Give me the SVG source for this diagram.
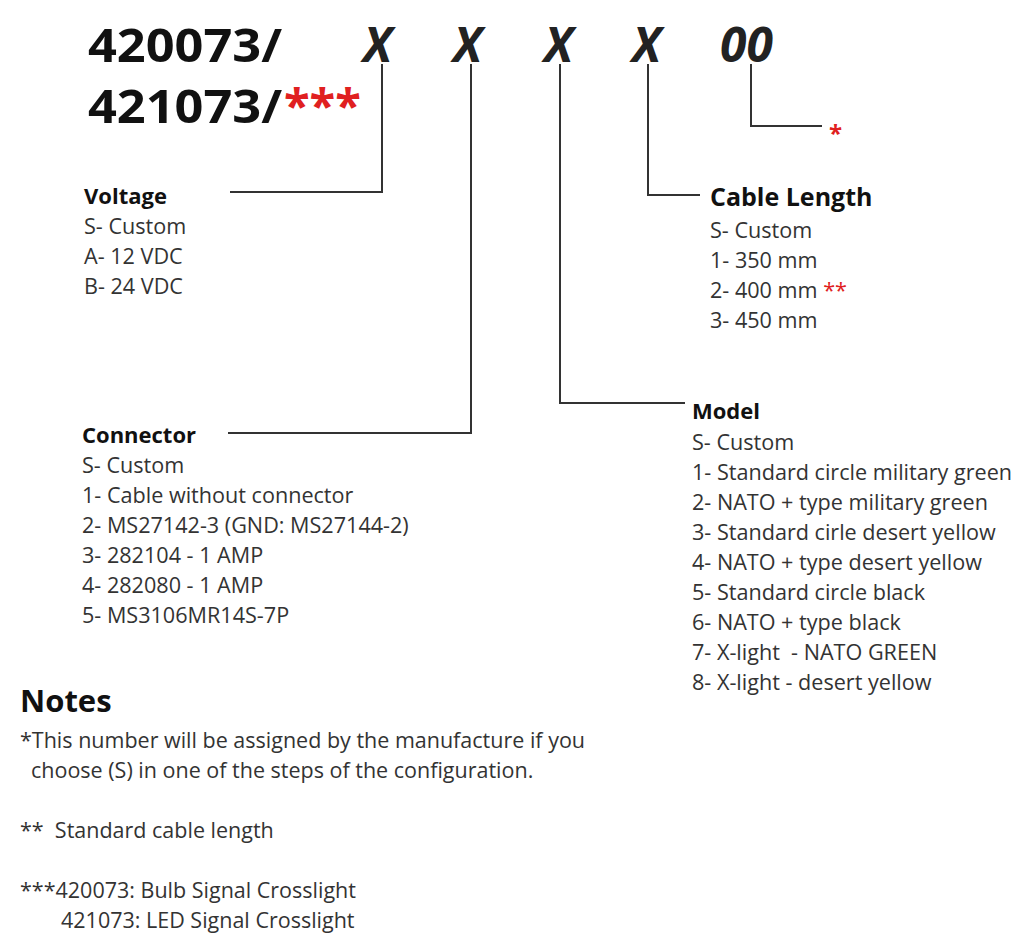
<svg xmlns="http://www.w3.org/2000/svg" width="1016" height="948" viewBox="0 0 1016 948">
<style>
text{font-family:"Open Sans","Liberation Sans",sans-serif;fill:#222}
.h{font-size:47px;font-weight:bold;fill:#111}
.x{font-size:48px;font-style:italic;font-weight:bold;fill:#222}
.t{font-size:22px;font-weight:bold;fill:#111}
.b{font-size:21.6px;fill:#333}
.n{font-size:21.5px;fill:#333}
.r{fill:#e02020}
.ln{fill:none;stroke:#333;stroke-width:2}
</style>
<rect width="1016" height="948" fill="#fff"/>
<g id="code">
<text class="h" x="88" y="62" textLength="194" lengthAdjust="spacingAndGlyphs">420073/</text>
<text class="h" x="88" y="123" textLength="194" lengthAdjust="spacingAndGlyphs">421073/</text>
<text class="h r" x="284" y="123">***</text>
<text class="x" x="363" y="62">X</text>
<text class="x" x="453" y="62">X</text>
<text class="x" x="544" y="62">X</text>
<text class="x" x="632" y="62">X</text>
<text class="x" x="720" y="62">00</text>
<text class="r" x="829" y="142" style="font-size:24px;font-weight:bold">*</text>
</g>
<g id="connectors">
<polyline class="ln" points="382,64 382,192 230,192"/>
<polyline class="ln" points="471,64 471,433 228,433"/>
<polyline class="ln" points="560,64 560,403 685,403"/>
<polyline class="ln" points="648,64 648,195 700,195"/>
<polyline class="ln" points="751,64 751,126 822,126"/>
</g>
<g id="voltage">
<text class="t" x="84" y="204">Voltage</text>
<text class="b" x="84" y="234">S- Custom</text>
<text class="b" x="84" y="264">A- 12 VDC</text>
<text class="b" x="84" y="294">B- 24 VDC</text>
</g>
<g id="cable">
<text class="t" x="710" y="206" style="font-size:25px">Cable Length</text>
<text class="b" x="710" y="238">S- Custom</text>
<text class="b" x="710" y="268">1- 350 mm</text>
<text class="b" x="710" y="298">2- 400 mm <tspan class="r">**</tspan></text>
<text class="b" x="710" y="328">3- 450 mm</text>
</g>
<g id="model">
<text class="t" x="692" y="419">Model</text>
<text class="b" x="692" y="450">S- Custom</text>
<text class="b" x="692" y="480">1- Standard circle military green</text>
<text class="b" x="692" y="510">2- NATO + type military green</text>
<text class="b" x="692" y="540">3- Standard cirle desert yellow</text>
<text class="b" x="692" y="570">4- NATO + type desert yellow</text>
<text class="b" x="692" y="600">5- Standard circle black</text>
<text class="b" x="692" y="630">6- NATO + type black</text>
<text class="b" x="692" y="660" xml:space="preserve">7- X-light  - NATO GREEN</text>
<text class="b" x="692" y="690">8- X-light - desert yellow</text>
</g>
<g id="connector">
<text class="t" x="82" y="443">Connector</text>
<text class="b" x="82" y="473">S- Custom</text>
<text class="b" x="82" y="503">1- Cable without connector</text>
<text class="b" x="82" y="533">2- MS27142-3 (GND: MS27144-2)</text>
<text class="b" x="82" y="563">3- 282104 - 1 AMP</text>
<text class="b" x="82" y="593">4- 282080 - 1 AMP</text>
<text class="b" x="82" y="623">5- MS3106MR14S-7P</text>
</g>
<g id="notes">
<text x="20" y="712" style="font-size:31px;font-weight:bold;fill:#111">Notes</text>
<text class="n" x="20" y="748">*This number will be assigned by the manufacture if you</text>
<text class="n" x="31" y="778">choose (S) in one of the steps of the configuration.</text>
<text class="n" x="20" y="838" xml:space="preserve">**  Standard cable length</text>
<text class="n" x="20" y="898">***420073: Bulb Signal Crosslight</text>
<text class="n" x="61" y="928">421073: LED Signal Crosslight</text>
</g>
</svg>
